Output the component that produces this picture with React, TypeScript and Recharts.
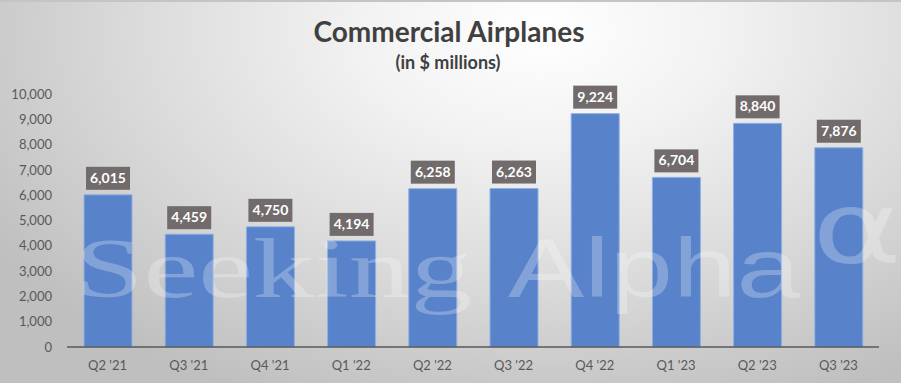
import React from "react";
import { BarChart, Bar, XAxis, YAxis, LabelList } from "recharts";

const quarters = ["Q2 '21", "Q3 '21", "Q4 '21", "Q1 '22", "Q2 '22", "Q3 '22", "Q4 '22", "Q1 '23", "Q2 '23", "Q3 '23"];
const revenue = [6015, 4459, 4750, 4194, 6258, 6263, 9224, 6704, 8840, 7876];
const yTicks = [0, 1000, 2000, 3000, 4000, 5000, 6000, 7000, 8000, 9000, 10000];

const data = quarters.map((q, i) => ({ q, v: revenue[i] }));

const W = 901;
const H = 383;
const FONT = "Lato, 'Liberation Sans', sans-serif";

const ValueLabel = (props: any) => {
  const { x, y, width, value } = props;
  const cx = x + width / 2;
  const bw = 44;
  const bh = 23;
  const by = y - 5 - bh;
  return (
    <g>
      <rect x={cx - bw / 2} y={by} width={bw} height={bh} fill="#716C6B" />
      <text
        x={cx}
        y={by + bh / 2 + 1}
        textAnchor="middle"
        dominantBaseline="middle"
        fill="#ffffff"
        fontFamily={FONT}
        fontWeight={700}
        fontSize={14}
      >
        {Number(value).toLocaleString("en-US")}
      </text>
    </g>
  );
};

export default function App() {
  return (
    <div
      style={{
        position: "absolute",
        left: 0,
        top: 0,
        width: W,
        height: H,
        overflow: "hidden",
        background:
          "radial-gradient(ellipse 72% 105% at 60% 8%, #ffffff 0%, #f2f2f2 28%, #dbdbdb 62%, #bfbfbf 100%)",
      }}
    >
      <div style={{ position: "absolute", left: 0, top: 0, width: W, height: 2, background: "#c4c4c4" }} />
      <BarChart
        width={W}
        height={H}
        data={data}
        margin={{ top: 94, right: 22, bottom: 6, left: 0 }}
        barSize={48}
      >
        <XAxis
          dataKey="q"
          axisLine={{ stroke: "#595959", strokeWidth: 1.5 }}
          tickLine={false}
          tickSize={0}
          tickMargin={14}
          height={30}
          tick={{ fill: "#595959", fontSize: 13, fontFamily: FONT }}
          interval={0}
        />
        <YAxis
          domain={[0, 10000]}
          ticks={yTicks}
          axisLine={false}
          tickLine={false}
          tickSize={0}
          tickMargin={15}
          width={67}
          interval={0}
          tickFormatter={(v: number) => v.toLocaleString("en-US")}
          tick={{ fill: "#595959", fontSize: 13, fontFamily: FONT }}
        />
        <Bar dataKey="v" fill="#5882C9" stroke="#8FB0E2" strokeWidth={1} isAnimationActive={false}>
          <LabelList dataKey="v" content={ValueLabel} />
        </Bar>
      </BarChart>
      <svg
        width={W}
        height={H}
        style={{ position: "absolute", left: 0, top: 0, pointerEvents: "none" }}
      >
        <g fill="#ffffff" fillOpacity={0.26}>
          <text
            x={75}
            y={297}
            fontFamily="'Liberation Serif', 'DejaVu Serif', serif"
            fontSize={84}
            textLength={397}
            lengthAdjust="spacingAndGlyphs"
          >
            Seeking
          </text>
          <text
            x={508}
            y={297}
            fontFamily="'Liberation Sans', Arial, sans-serif"
            fontSize={83}
            textLength={292}
            lengthAdjust="spacingAndGlyphs"
          >
            Alpha
          </text>
          <text
            x={812}
            y={263}
            fontFamily="'DejaVu Sans', sans-serif"
            fontSize={100}
            textLength={90}
            lengthAdjust="spacingAndGlyphs"
          >
            α
          </text>
        </g>
        <text
          x={449}
          y={42}
          textAnchor="middle"
          fill="#404040"
          fontFamily={FONT}
          fontWeight={700}
          fontSize={28}
        >
          Commercial Airplanes
        </text>
        <text
          x={448}
          y={69}
          textAnchor="middle"
          fill="#404040"
          fontFamily={FONT}
          fontWeight={700}
          fontSize={18}
        >
          (in $ millions)
        </text>
      </svg>
    </div>
  );
}
